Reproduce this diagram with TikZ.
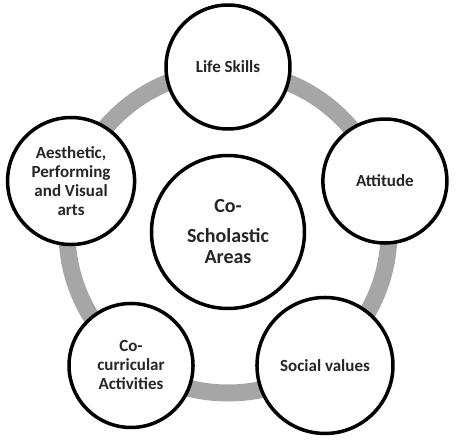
\documentclass[tikz,border=0pt]{standalone}
\usepackage{fontspec}
\setmainfont{Carlito}
\tikzset{
    area/.style={circle, draw=black, line width=3.5pt, fill=white,
        minimum size=124pt, inner sep=0pt, align=center,
        font=\fontsize{17}{19}\selectfont\bfseries, text=black!85},
    core/.style={area, minimum size=153pt,
        font=\fontsize{20}{21}\selectfont\bfseries},
    ring/.style={draw=black!35, line width=17pt},
}
\begin{document}
\begin{tikzpicture}[x=1pt, y=1pt]
    \useasboundingbox (-228,-215) rectangle (231,232);
    \coordinate (centre) at (0,0);
    \draw[ring] (centre) circle (161);
    \node[core] (coscholastic) at (centre) {Co-\\[9pt]Scholastic\\Areas};
    \node[area] (lifeskills) at (90:165) {Life Skills};
    \node[area] (attitude) at (18:165) {Attitude};
    \node[area, minimum size=136pt] (socialvalues) at (-54:165) {Social values};
    \node[area] (cocurricular) at (-126:165) {Co-\\curricular\\Activities};
    \node[area, minimum size=127pt] (aesthetic) at (162:165) {Aesthetic,\\Performing\\and Visual\\arts};
\end{tikzpicture}
\end{document}
